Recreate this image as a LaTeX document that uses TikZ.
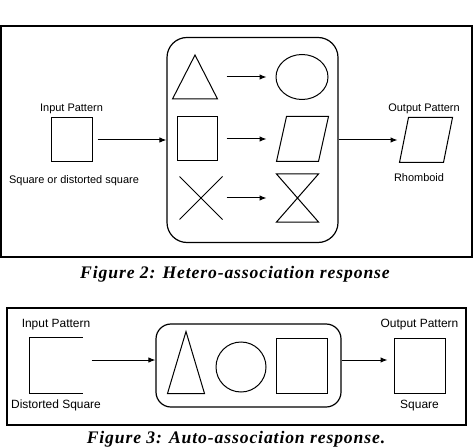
\documentclass[tikz,border=0pt]{standalone}
\usepackage{fontspec}
\setmainfont{Liberation Sans}
\newfontfamily\capfont[LetterSpace=5]{Liberation Serif}
\usetikzlibrary{arrows,positioning,shapes.geometric}
\usetikzlibrary{arrows.meta}

\begin{document}
\begin{tikzpicture}[x=1bp,y=-1bp,>={Latex[length=7bp,width=5.5bp]},every node/.append style={align=center},lbl/.style={font=\fontsize{11}{13}\selectfont, inner sep=1bp},lblb/.style={font=\fontsize{12}{14}\selectfont, inner sep=1bp},figcap/.style={font=\capfont\bfseries\itshape\fontsize{17.7}{20}\selectfont},frame/.style={draw, line width=2bp},group/.style={draw, line width=1.2bp, rounded corners=#1},cell/.style={inner sep=0pt, line width=1bp},outline/.style={line width=1bp},link/.style={->, line width=1bp},]
    \useasboundingbox (0,0) rectangle (474,448);
    % hetero-association
    \draw[frame] (1,26) rectangle (472,257);
    \node [group=20bp, minimum width=171bp, minimum height=205bp] (M2) at (252.5,140) {};
    \node [cell, draw, minimum width=41bp, minimum height=44bp] (In2) at (71.5,140) {};
    \node [lbl, above=3bp of In2] (InL2) {Input Pattern};
    \node [lbl, below=12bp of In2, xshift=2.5bp] (InS2) {Square or distorted square};
    \node [cell, minimum width=44bp, minimum height=43bp] (Tri2) at (195,77) {};
    \draw[outline] (Tri2.north) -- (Tri2.south east) -- (Tri2.south west) -- cycle;
    \node [cell, draw, ellipse, minimum width=52bp, minimum height=45bp] (Ell2) at (302,77) {};
    \node [cell, draw, minimum width=40bp, minimum height=44bp] (Sq2) at (197,139) {};
    \node [cell, minimum width=51bp, minimum height=44bp] (Par2) at (302.5,139) {};
    \draw[outline] ([xshift=10bp]Par2.north west) -- (Par2.north east) -- ([xshift=-10bp]Par2.south east) -- (Par2.south west) -- cycle;
    \node [cell, minimum width=42bp, minimum height=42bp] (X2) at (201,198) {};
    \draw[outline] (X2.north west) -- (X2.south east) (X2.south west) -- (X2.north east);
    \node [cell, minimum width=41bp, minimum height=47bp] (Hg2) at (297.5,198) {};
    \draw[outline] (Hg2.north west) -- (Hg2.north east) -- (Hg2.south west) -- (Hg2.south east) -- cycle;
    \path[link] (Tri2) edge [shorten <=9bp, shorten >=9bp] (Ell2);
    \path[link] (Sq2) edge [shorten <=9bp, shorten >=10bp] (Par2);
    \path[link] (X2) edge [shorten <=4bp, shorten >=10bp] (Hg2);
    \node [cell, minimum width=52bp, minimum height=44bp] (Out2) at (426,140) {};
    \draw[outline] ([xshift=9bp]Out2.north west) -- (Out2.north east) -- ([xshift=-9bp]Out2.south east) -- (Out2.south west) -- cycle;
    \node [lbl, above=3bp of Out2, xshift=-2bp] (OutL2) {Output Pattern};
    \node [lbl, below=10bp of Out2, xshift=-7bp] (OutS2) {Rhomboid};
    \path[link] (In2) edge [shorten <=5bp] (M2);
    \path[link] (M2) edge [shorten >=2bp] (Out2);
    \node [figcap] (Cap2) at (235,274) {Figure 2: Hetero-association response};
    % auto-association
    \draw[frame] (7,308) rectangle (466,425);
    \node [group=15bp, minimum width=185bp, minimum height=83bp] (M3) at (248.5,365.5) {};
    \node [cell, minimum width=52bp, minimum height=55bp] (In3) at (56,365.5) {};
    \draw[outline] (In3.north east) -- (In3.north west) -- (In3.south west) -- (In3.south east);
    \node [lblb, above=6bp of In3] (InL3) {Input Pattern};
    \node [lblb, below=5bp of In3] (InS3) {Distorted Square};
    \node [cell, minimum width=36bp, minimum height=61bp] (Tri3) at (186,362.5) {};
    \draw[outline] (Tri3.north) -- (Tri3.south east) -- (Tri3.south west) -- cycle;
    \node [cell, draw, circle, minimum size=50bp] (Circ3) at (241,367) {};
    \node [cell, draw, minimum width=51bp, minimum height=55bp] (Sq3) at (301.5,365.5) {};
    \node [cell, draw, minimum width=51bp, minimum height=55bp] (Out3) at (419.5,365.5) {};
    \node [lblb, above=6bp of Out3] (OutL3) {Output Pattern};
    \node [lblb, below=5bp of Out3] (OutS3) {Square};
    \path[link] ([yshift=5.5bp]In3.east) edge [shorten <=9bp] ([yshift=5.5bp]M3.west);
    \path[link] ([yshift=5.5bp]M3.east) edge [shorten >=6bp] ([yshift=5.5bp]Out3.west);
    \node [figcap] (Cap3) at (236,439) {Figure 3: Auto-association response.};
\end{tikzpicture}
\end{document}
